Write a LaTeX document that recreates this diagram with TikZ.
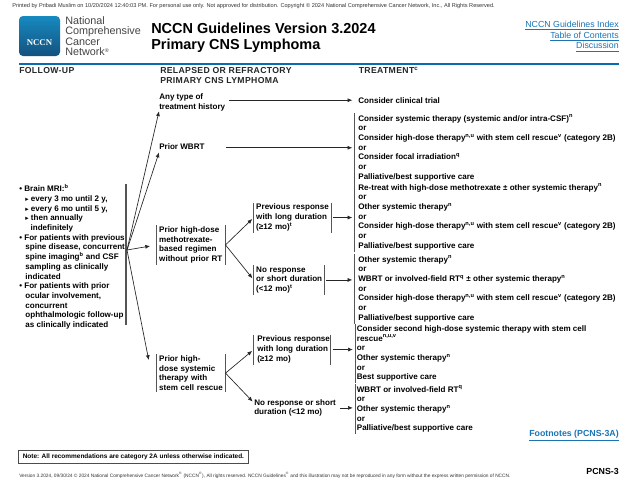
\documentclass[tikz,border=0pt]{standalone}
\usepackage{fontspec}
\setmainfont{Liberation Sans}
\newfontfamily\serifbold{Liberation Serif}[BoldFont=* Bold]
\newfontfamily\symfont{DejaVu Sans}
\usetikzlibrary{arrows.meta,calc}
\definecolor{nccnblue}{HTML}{1B75B5}
\definecolor{rulecol}{HTML}{0A6CB0}
\definecolor{bargray}{HTML}{555555}
\definecolor{txtgray}{HTML}{444444}
\newcommand{\bodyfont}{\fontsize{6.05}{7.28}\selectfont\bfseries\hyphenpenalty=10000\exhyphenpenalty=10000 }
\newcommand{\tri}{{\symfont\fontsize{5}{7.28}\selectfont ▸}}
\newcommand{\up}[1]{\textsuperscript{#1}}
\tikzset{
  txt/.style={anchor=north west,inner sep=0pt,align=left,font=\bodyfont,text=black},
  block/.style={txt,inner xsep=1.7pt,inner ysep=1pt},
  bar/.style={draw=bargray,line width=0.6pt},
  conn/.style={draw=black!85,line width=0.5pt,-{Latex[length=3.6pt,width=3pt]}},
  linkt/.style={anchor=east,inner sep=0pt,text=nccnblue,font=\fontsize{6.6}{8}\selectfont},
  hdr/.style={anchor=north west,inner sep=0pt,align=left,font=\fontsize{6.5}{7.3}\selectfont\bfseries\addfontfeature{LetterSpace=4},text=black!85},
  brand/.style={anchor=west,inner sep=0pt,text=txtgray,font=\fontsize{8.1}{9}\selectfont},
  titlet/.style={anchor=west,inner sep=0pt,font=\fontsize{10.85}{13}\selectfont\bfseries},
  tinyp/.style={anchor=west,inner sep=0pt,text=black!80,font=\fontsize{4.2}{5}\selectfont},
  tinyv/.style={anchor=west,inner sep=0pt,text=black!80,font=\fontsize{3.6}{5}\selectfont}
}
\begin{document}
\begin{tikzpicture}[x=0.75pt,y=-0.75pt]
\useasboundingbox (0,0) rectangle (638,493);
\fill[white] (0,0) rectangle (638,493);
% header
\node[tinyp] (printed) at (12,6) {Printed by Pribadi Muslim on 10/20/2024 12:40:03 PM. For personal use only. Not approved for distribution. Copyright © 2024 National Comprehensive Cancer Network, Inc., All Rights Reserved.};
\shade[top color=nccnblue!85!cyan,bottom color=nccnblue!70!black,rounded corners=3pt] (19,16) rectangle (60,56);
\node[inner sep=0pt,text=white,font=\serifbold\fontsize{6.6}{8}\selectfont\bfseries] (logo) at (39.5,43) {NCCN};
\node[brand] (b1) at (65,21) {National};
\node[brand] (b2) at (65,31.5) {Comprehensive};
\node[brand] (b3) at (65,42) {Cancer};
\node[brand] (b4) at (65,52) {Network\raisebox{2.5pt}{\fontsize{4}{4}\selectfont ®}};
\node[titlet] (t1) at (151,28) {NCCN Guidelines Version 3.2024};
\node[titlet] (t2) at (151,46) {Primary CNS Lymphoma};
\node[linkt] (l1) at (619,26) {\underline{NCCN Guidelines Index}};
\node[linkt] (l2) at (619,36.5) {\underline{Table of Contents}};
\node[linkt] (l3) at (619,47) {\underline{Discussion}};
\draw[rulecol,line width=1pt] (19,64) -- (619,64);
\node[hdr] (h1) at (19,67) {FOLLOW-UP};
\node[hdr] (h2) at (160,67) {RELAPSED OR REFRACTORY\\PRIMARY CNS LYMPHOMA};
\node[hdr] (h3) at (358.5,67) {TREATMENT\up{c}};
% follow-up
\node[txt] (fu) at (19,184) {• Brain MRI:\up{b}\\
\hspace*{4.6pt}\tri\ every 3 mo until 2 y,\\
\hspace*{4.6pt}\tri\ every 6 mo until 5 y,\\
\hspace*{4.6pt}\tri\ then annually\\
\hspace*{8.5pt}indefinitely\\
• For patients with previous\\
\hspace*{4.6pt}spine disease, concurrent\\
\hspace*{4.6pt}spine imaging\up{b} and CSF\\
\hspace*{4.6pt}sampling as clinically\\
\hspace*{4.6pt}indicated\\
• For patients with prior\\
\hspace*{4.6pt}ocular involvement,\\
\hspace*{4.6pt}concurrent\\
\hspace*{4.6pt}ophthalmologic follow-up\\
\hspace*{4.6pt}as clinically indicated};
\coordinate (fub) at (127,250);
\coordinate (futop) at (126,184);
\coordinate (fubot) at (126,325);
\draw[bar,line width=0.9pt] (futop) -- (fubot);
% level 1
\node[txt] (any) at (159,93.5) {Any type of\\treatment history};
\node[txt] (wbrt) at (159,143) {Prior WBRT};
\node[block,text width=47.8pt] (mtx) at (156.7,225) {Prior high-dose\\methotrexate-\\based regimen\\without~prior~RT};
\node[block,text width=47.8pt] (hds) at (156.7,354) {Prior high-\\dose systemic\\therapy with\\stem~cell~rescue};
\draw[bar] (mtx.north west) -- (mtx.south west) (mtx.north east) -- (mtx.south east);
\draw[bar] (hds.north west) -- (hds.south west) (hds.north east) -- (hds.south east);
% level 2
\node[block,text width=54.4pt] (plong) at (253.7,202.5) {Previous~response\\with~long~duration\\(≥12~mo)\up{t}};
\node[block,text width=49.1pt] (nresp) at (253.7,265) {No~response\\or~short~duration\\(<12~mo)\up{t}};
\node[block,text width=53.8pt] (plong2) at (253.7,334.5) {\hspace*{0.8pt}Previous~response\\\hspace*{0.8pt}with~long~duration\\\hspace*{0.8pt}(≥12~mo)};
\node[txt] (nresp2) at (254,399) {No response or short\\duration (<12 mo)};
\foreach \n in {plong,nresp,plong2}{\draw[bar] (\n.north west) -- (\n.south west) (\n.north east) -- (\n.south east);}
% treatment
\node[txt,inner xsep=2.7pt] (ctrial) at (354.5,97) {Consider clinical trial};
\node[block,inner xsep=2.7pt] (tr1) at (354.5,113) {Consider systemic therapy (systemic and/or intra-CSF)\up{n}\\or\\Consider high-dose therapy\up{n,u} with stem cell rescue\up{v} (category 2B)\\or\\Consider focal irradiation\up{q}\\or\\Palliative/best supportive care};
\node[block,inner xsep=2.7pt] (tr2) at (354.5,182) {Re-treat with high-dose methotrexate ± other systemic therapy\up{n}\\or\\Other systemic therapy\up{n}\\or\\Consider high-dose therapy\up{n,u} with stem cell rescue\up{v} (category 2B)\\or\\Palliative/best supportive care};
\node[block,inner xsep=2.7pt] (tr3) at (354.5,254) {Other systemic therapy\up{n}\\or\\WBRT or involved-field RT\up{q} ± other systemic therapy\up{n}\\or\\Consider high-dose therapy\up{n,u} with stem cell rescue\up{v} (category 2B)\\or\\Palliative/best supportive care};
\node[block,inner xsep=1.2pt] (tr4) at (355,324) {Consider second high-dose systemic therapy with stem cell\\rescue\up{n,u,v}\\or\\Other systemic therapy\up{n}\\or\\Best supportive care};
\node[block,inner xsep=1.2pt] (tr5) at (355,384) {WBRT or involved-field RT\up{q}\\or\\Other systemic therapy\up{n}\\or\\Palliative/best supportive care};
\foreach \n in {tr1,tr2,tr3,tr4,tr5}{\draw[bar] (\n.north west) -- (\n.south west);}
% connectors
\draw[conn] (fub) -- (any.south west);
\draw[conn] (fub) -- ([shift={(0,3)}]wbrt.south west);
\draw[conn,shorten >=5pt] (fub) -- (mtx.west);
\draw[conn] (fub) -- ([shift={(-8,6)}]hds.north west);
\draw[conn,shorten <=3pt,shorten >=1.6pt] (any.east |- ctrial.west) -- (ctrial.west);
\draw[conn,shorten <=15.7pt,shorten >=1.6pt] (wbrt.east |- tr1.west) -- (tr1.west);
\draw[conn,shorten >=1.5pt] (mtx.east) -- (plong.west);
\draw[conn,shorten >=1.5pt] (mtx.east) -- (nresp.west);
\draw[conn,shorten >=1.5pt] (hds.east) -- (plong2.west);
\draw[conn,shorten >=1.5pt] (hds.east) -- ([yshift=-3]nresp2.north west);
\draw[conn,shorten <=1.5pt,shorten >=1.6pt] (plong.east) -- (plong.east -| tr2.west);
\draw[conn,shorten <=1.5pt,shorten >=1.6pt] (nresp.east) -- (nresp.east -| tr3.west);
\draw[conn,shorten <=1.5pt,shorten >=1.6pt] (plong2.east) -- (plong2.east -| tr4.west);
\draw[conn,shorten <=3pt,shorten >=1.6pt] (nresp2.east) -- (nresp2.east -| tr5.west);
% footer
\node[linkt,font=\fontsize{6.6}{8}\selectfont\bfseries] (foot) at (619,436) {\underline{Footnotes (PCNS-3A)}};
\node[draw=black!70,line width=0.6pt,minimum width=172.5pt,minimum height=9.75pt,inner sep=0pt,anchor=north west,font=\fontsize{4.85}{6}\selectfont\bfseries] (note) at (18,450) {Note: All recommendations are category 2A unless otherwise indicated.};
\node[tinyv] (ver) at (19,475.5) {Version 3.2024, 09/30/24 © 2024 National Comprehensive Cancer Network\textsuperscript{®} (NCCN\textsuperscript{®}), All rights reserved. NCCN Guidelines\textsuperscript{®} and this illustration may not be reproduced in any form without the express written permission of NCCN.};
\node[anchor=east,inner sep=0pt,font=\fontsize{6.6}{8}\selectfont\bfseries] (pg) at (619,471) {PCNS-3};
\end{tikzpicture}
\end{document}
